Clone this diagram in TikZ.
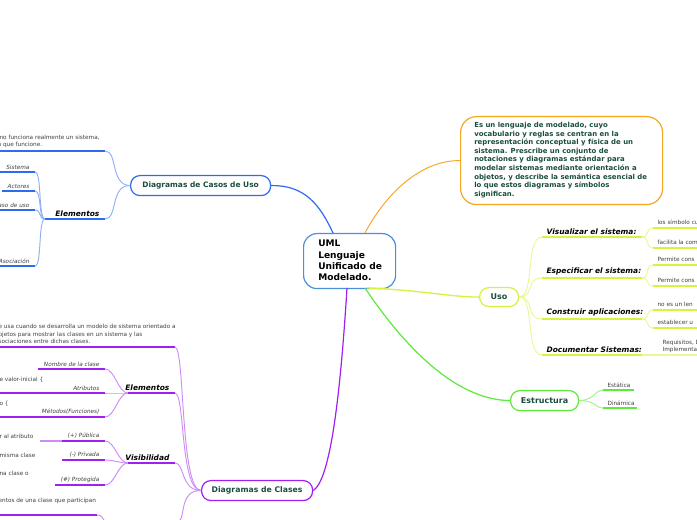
\documentclass[tikz,border=0pt]{standalone}
\usepackage{fontspec}
\setmainfont{DejaVu Sans}
\begin{document}
\begin{tikzpicture}[x=0.75pt,y=-0.75pt,
 box/.style={draw=#1,line width=0.9pt,rounded corners=7pt,fill=white,text=dkg,font=\bfseries\fontsize{6}{7}\selectfont,inner sep=0pt,anchor=north west},
 lbl/.style={font=\bfseries\itshape\fontsize{5.6}{6}\selectfont,inner sep=1pt},
 sm/.style={font=\fontsize{4.3}{5.4}\selectfont,text=black!75,inner sep=1pt,align=left},
 smi/.style={font=\itshape\fontsize{4.3}{5}\selectfont,text=black!75,inner sep=1pt},
 ul/.style={draw=#1,line width=1.3pt},
 cn/.style={draw=#1,line width=0.7pt}]
\definecolor{dkg}{HTML}{1B4D3E}
\definecolor{bl}{HTML}{2F6BF0}
\definecolor{lbl}{HTML}{8FB0F5}
\definecolor{pu}{HTML}{A020F0}
\definecolor{lpu}{HTML}{D08CF5}
\definecolor{yg}{HTML}{D4F53C}
\definecolor{lyg}{HTML}{E8FA96}
\definecolor{gr}{HTML}{5CEB3A}
\definecolor{or}{HTML}{F5A623}
\definecolor{cb}{HTML}{4A90D9}
\fill[white] (0,0) rectangle (697,520);
\useasboundingbox (0,0) rectangle (697,520);
\clip (0,0) rectangle (697,520);
% central
\node[box=cb,minimum width=92pt*0.75,minimum height=55pt*0.75,rounded corners=10pt] (c) at (303,233) {};
\node[font=\bfseries\fontsize{6.8}{8.5}\selectfont,align=left,anchor=north west,inner sep=0pt] (ct) at (318,240) {UML\\Lenguaje\\Unificado de\\Modelado.};
% orange
\node[box=or,minimum width=202pt*0.75,minimum height=88pt*0.75,rounded corners=12pt] (o) at (460,116) {};
\node[font=\bfseries\fontsize{5.2}{6.45}\selectfont,text=dkg,align=left,anchor=north west,inner sep=0pt] (ot) at (474,122) {Es un lenguaje de modelado, cuyo\\vocabulario y reglas se centran en la\\representación conceptual y física de un\\sistema. Prescribe un conjunto de\\notaciones y diagramas estándar para\\modelar sistemas mediante orientación a\\objetos, y describe la semántica esencial de\\lo que estos diagramas y símbolos\\significan.};
\draw[cn=or] (365,233) .. controls (385,195) and (420,160) .. (o.west);
% Uso
\node[box=yg,minimum width=39pt*0.75,minimum height=19pt*0.75] (u) at (479,287) {};
\node[font=\bfseries\fontsize{6}{7}\selectfont,text=dkg] at (u.center) {Uso};
\draw[cn=yg,line width=1pt] (367,288) .. controls (420,290) and (450,297) .. (u.west);
\foreach \y/\t/\n in {237/Visualizar el sistema:/v,278/Especificar el sistema:/e,319/Construir aplicaciones:/k,355/Documentar Sistemas:/d}{
 \coordinate (\n1) at (542,\y); \coordinate (\n2) at (642,\y);
 \draw[ul=yg] (\n1)--(\n2);
 \node[lbl,anchor=south west] at (545,\y-1) {\t};
 \draw[cn=lyg] (u.east) .. controls (535,297) and (525,\y) .. (\n1);
}
\draw[ul=lyg] (d2)--(697,355);
\node[sm,anchor=south west] at (661,354) {Requisitos, D\\Implementaci};
\foreach \p/\y/\t in {v/228/los símbolo cu,v/248/facilita la comu,e/265/Permite cons,e/286/Permite cons,k/310/no es un len,k/328/establecer u}{
 \draw[ul=yg] (653,\y)--(697,\y);
 \draw[cn=lyg] (\p2) .. controls +(8,0) and (645,\y) .. (653,\y);
 \node[sm,anchor=south west] at (656,\y-1.5) {\t};
}
% Estructura
\node[box=gr,minimum width=68pt*0.75,minimum height=20pt*0.75] (s) at (510,390) {};
\node[font=\bfseries\fontsize{6}{7}\selectfont,text=dkg] at (s.center) {Estructura};
\draw[cn=gr,line width=0.9pt] (365,288) .. controls (410,355) and (460,400) .. (s.west);
\draw[ul=gr] (603,390)--(634,390); \node[sm,anchor=south west] at (606,389) {Estática};
\draw[ul=gr] (603,408)--(637,408); \node[sm,anchor=south west] at (606,407) {Dinámica};
\draw[cn=gr!60] (s.east) .. controls (595,400) and (595,390) .. (603,390);
\draw[cn=gr!60] (s.east) .. controls (595,400) and (595,408) .. (603,408);
% Casos de uso
\node[box=bl,minimum width=140pt*0.75,minimum height=20pt*0.75] (cu) at (130,175) {};
\node[font=\bfseries\fontsize{5.6}{7}\selectfont,text=dkg] at (cu.center) {Diagramas de Casos de Uso};
\draw[cn=bl,line width=0.9pt] (cu.east) .. controls (305,185) and (320,205) .. (333,233);
\draw[ul=bl] (0,151)--(105,151);
\node[sm,anchor=south west] at (-4,149) {mo funciona realmente un sistema,\\n que funcione.};
\draw[cn=lbl] (cu.west) .. controls (110,185) and (118,151) .. (105,151);
\draw[ul=bl] (45,219)--(105,219);
\node[lbl,anchor=south east] at (101,218) {Elementos};
\draw[cn=lbl] (cu.west) .. controls (110,185) and (118,219) .. (105,219);
\foreach \y/\t/\xa in {172/Sistema/0,191/Actores/2,210/aso de uso/0,266/Asociación/0}{
 \draw[ul=bl] (\xa,\y)--(35,\y);
 \node[smi,anchor=south east] at (31,\y-1) {\t};
 \draw[cn=lbl] (45,219) .. controls (38,219) and (42,\y) .. (35,\y);
}
% Clases
\node[box=pu,minimum width=111pt*0.75,minimum height=20pt*0.75] (dc) at (201,480) {};
\node[font=\bfseries\fontsize{5.8}{7}\selectfont,text=dkg] at (dc.center) {Diagramas de Clases};
\draw[cn=pu,line width=0.9pt] (dc.east) .. controls (330,480) and (340,400) .. (347,288);
\draw[ul=pu] (0,347)--(175,347);
\node[sm,anchor=south west] at (-3,345) {e usa cuando se desarrolla un modelo de sistema orientado a\\bjetos para mostrar las clases en un sistema y las\\sociaciones entre dichas clases.};
\draw[cn=lpu] (dc.west) .. controls (180,490) and (185,347) .. (175,347);
\draw[ul=pu] (128,393)--(175,393); \node[lbl,anchor=south east] at (171,392) {Elementos};
\draw[cn=lpu] (dc.west) .. controls (180,490) and (185,393) .. (175,393);
\draw[ul=pu] (128,463)--(175,463); \node[lbl,anchor=south east] at (171,462) {Visibilidad};
\draw[cn=lpu] (dc.west) .. controls (180,490) and (185,463) .. (175,463);
\draw[ul=pu] (0,515)--(97,515);
\node[sm,anchor=south west] at (-3,505) {entos de una clase que participan};
\draw[cn=lpu] (dc.west) .. controls (180,490) and (185,515) .. (180,520);
\draw[cn=lpu] (97,515) .. controls (102,515) and (102,518) .. (104,520);
\foreach \y/\t/\xa/\yy in {369/Nombre de la clase/38/393,393/Atributos/0/393,417/Métodos(Funciones)/0/393,441/(+) Pública/62/463,460/(-) Privada/62/463,485/(\#) Protegida/55/463}{
 \draw[ul=pu] (\xa,\y)--(105,\y);
 \node[smi,anchor=south east] at (101,\y-1) {\t};
 \draw[cn=lpu] (128,\yy) .. controls (118,\yy) and (115,\y) .. (105,\y);
}
\draw[ul=lpu] (40,441)--(62,441);
\node[sm,anchor=south west] at (-2,440) {r al atributo};
\node[sm,anchor=south west] at (-2,459) {misma clase};
\node[sm,anchor=south west] at (-2,477) {na clase o};
\node[sm,anchor=south west] at (-2,384) {e valor-inicial \{};
\node[sm,anchor=south west] at (-2,408) {o \{};
\end{tikzpicture}
\end{document}
